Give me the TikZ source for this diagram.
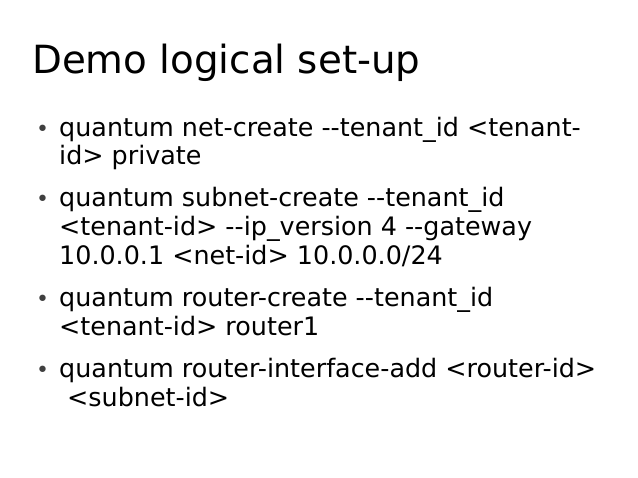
\documentclass[tikz,border=0pt]{standalone}
\usepackage{fontspec}
\setmainfont{DejaVu Sans}
\begin{document}
\begin{tikzpicture}[x=1pt,y=-1pt,
  ln/.style={anchor=base west,inner sep=0pt,font=\fontsize{25.4}{28}\selectfont},
  bl/.style={anchor=base west,inner sep=0pt,font=\fontsize{22}{24}\selectfont,text=black!75}]
\useasboundingbox[fill=white] (0,0) rectangle (638,478);
\node[anchor=base west,inner sep=0pt,font=\fontsize{38.8}{48}\selectfont] (title) at (32,74) {Demo logical set-up};
\node[bl] (b1) at (36,137) {•};
\node[ln] (l1) at (59,137) {quantum net-create -{}-tenant\_id <tenant-};
\node[ln] (l2) at (59,165) {id> private};
\node[bl] (b2) at (36,207) {•};
\node[ln] (l3) at (59,207) {quantum subnet-create -{}-tenant\_id};
\node[ln] (l4) at (59,236) {<tenant-id> -{}-ip\_version 4 -{}-gateway};
\node[ln] (l5) at (59,265) {10.0.0.1 <net-id> 10.0.0.0/24};
\node[bl] (b3) at (36,307) {•};
\node[ln] (l6) at (59,307) {quantum router-create -{}-tenant\_id};
\node[ln] (l7) at (59,336) {<tenant-id> router1};
\node[bl] (b4) at (36,378) {•};
\node[ln] (l8) at (59,378) {quantum router-interface-add <router-id>};
\node[ln] (l9) at (67,407) {<subnet-id>};
\end{tikzpicture}
\end{document}
